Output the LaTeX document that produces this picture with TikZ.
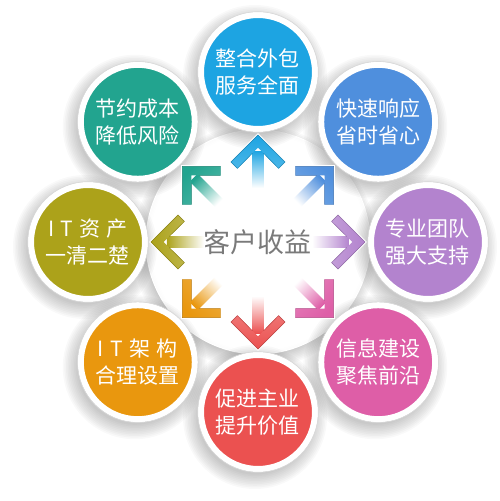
\documentclass[tikz,border=0pt]{standalone}
\usepackage{fontspec}
\setmainfont{Noto Sans CJK SC}
\usetikzlibrary{calc,backgrounds}

\definecolor{cteal}{HTML}{22A48F}
\definecolor{csky}{HTML}{1DA4E2}
\definecolor{cblue}{HTML}{4F8FDD}
\definecolor{cviolet}{HTML}{B383CE}
\definecolor{cpink}{HTML}{DE5EA7}
\definecolor{cred}{HTML}{EB5150}
\definecolor{corange}{HTML}{E9970E}
\definecolor{colive}{HTML}{ACA21A}
\definecolor{hubgray}{HTML}{E0E0E0}

\pgfdeclareradialshading{hubring}{\pgfpoint{0bp}{0bp}}{%
  color(0bp)=(white); color(24bp)=(white); color(30bp)=(hubgray!70); color(46bp)=(hubgray); color(50bp)=(hubgray!85!gray)}

\begin{document}
\begin{tikzpicture}[x=1pt, y=1pt]
\tikzset{
  bubble/.style={circle, draw=white, line width=6pt, minimum size=114pt, inner sep=0pt, align=center, text=white, font=\fontsize{21}{27}\selectfont},
  rim/.style={draw=black!15, line width=0.6pt},
  halo/.style={black, opacity=0.022},
}
\useasboundingbox (-258,-259) rectangle (242,242);

\node[text=black!52, font=\fontsize{27}{32}\selectfont] (hub) at (0,0) {客户收益};

\node[bubble, fill=csky] (outsource) at (90:170) {整合外包\\服务全面};
\node[bubble, fill=cblue] (speed) at (45:170) {快速响应\\省时省心};
\node[bubble, fill=cviolet] (team) at (0:170) {专业团队\\强大支持};
\node[bubble, fill=cpink] (frontier) at (-45:170) {信息建设\\聚焦前沿};
\node[bubble, fill=cred] (value) at (-90:170) {促进主业\\提升价值};
\node[bubble, fill=corange] (arch) at (-135:170) {\makebox[3.8em][s]{I\hfill T\hfill 架\hfill 构}\\合理设置};
\node[bubble, fill=colive] (asset) at (180:170) {\makebox[3.8em][s]{I\hfill T\hfill 资\hfill 产}\\一清二楚};
\node[bubble, fill=cteal] (cost) at (135:170) {节约成本\\降低风险};

\foreach \n in {outsource,speed,team,frontier,value,arch,asset,cost}
  \draw[rim] (\n) circle (60.3);

% ring and soft shadows
\begin{scope}[on background layer]
  \foreach \k in {1,...,12} \fill[halo] (-3,-5) circle (104+1.5*\k);
  \shade[shading=hubring] (hub.center) circle (112);
  \draw[white, line width=1pt] (hub.center) circle (112);
  \foreach \n in {outsource,speed,team,frontier,value,arch,asset,cost}
    \foreach \k in {1,...,10} \fill[halo] ([shift={(-3,-5)}]\n.center) circle (56+1.6*\k);
\end{scope}

% arrows out of the hub
\foreach \a/\c [evaluate=\a as \s using \a+90] in {90/csky,45/cblue,0/cviolet,-45/cpink,-90/cred,-135/corange,180/colive,135/cteal}{
  \begin{scope}[shift={(hub.center)}, rotate=\a]
    \draw[white, line width=2.5pt, line join=miter] (107,0) -- (80,27) -- (73.6,20.6) -- (88.8,5.5) -- (54,5.5)
      -- (54,-5.5) -- (88.8,-5.5) -- (73.6,-20.6) -- (80,-27) -- cycle;
    \shade[left color=white, right color=\c, shading angle=\s] (54,-5.5) rectangle (91,5.5);
    \shade[left color=\c!80!white, right color=\c, shading angle=\s] (107,0) -- (80,27) -- (73.6,20.6) -- (94.3,0)
      -- (73.6,-20.6) -- (80,-27) -- cycle;
    \draw[\c!80!black, line width=0.4pt] (88.8,5.5) -- (73.6,20.6) -- (80,27) -- (107,0) -- (80,-27) -- (73.6,-20.6) -- (88.8,-5.5);
  \end{scope}
}
\end{tikzpicture}
\end{document}
